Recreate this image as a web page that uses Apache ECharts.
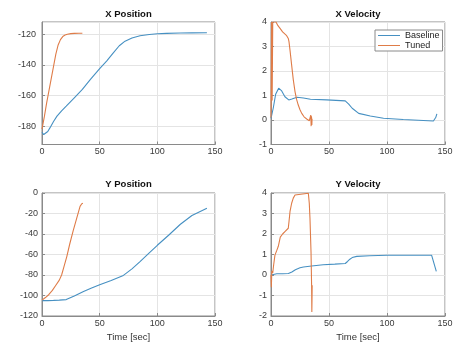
<!DOCTYPE html>
<html lang="en">
<head>
    <meta charset="UTF-8">
    <title>Position / Velocity</title>
    <script src="https://cdn.jsdelivr.net/npm/echarts@6/dist/echarts.min.js"></script>
    <style>
        body { margin: 0; background: #fff; }
    </style>
</head>
<body>
    <div id="main" style="width:474px;height:353px;"></div>

    <script>
        // [time, value] pairs
        const xPosBaseline = [
            [0, -184], [1.5, -185.5], [3, -185.5], [5, -183.5], [7, -181], [10, -177], [13, -173.5],
            [17, -170], [21, -167], [28, -161.5], [35, -156], [42, -149.5], [50, -142.5], [56, -137.5],
            [62, -132], [67, -127.5], [72, -124.5], [78, -122.5], [85, -121], [93, -120.2], [100, -119.7],
            [108, -119.4], [120, -119.2], [130, -119.1], [143, -119]
        ];
        const xPosTuned = [
            [0, -182], [2, -174], [4, -165], [6, -157], [8, -149], [10, -141], [12, -133], [14, -127],
            [16, -123.5], [18, -121.5], [20, -120.5], [22, -120], [25, -119.6], [28, -119.4], [32, -119.3], [35, -119.3]
        ];
        const xVelBaseline = [
            [0, 0.07], [2, 0.5], [4, 1.05], [6.6, 1.3], [9, 1.2], [12, 0.95], [15.3, 0.82], [18, 0.86],
            [22.4, 0.93], [28, 0.9], [34, 0.85], [48, 0.82], [64, 0.78], [67, 0.65], [70, 0.48], [75.6, 0.27],
            [85.6, 0.16], [97, 0.07], [114, 0.02], [140, -0.04], [141, -0.05], [142, 0.1], [143, 0.25]
        ];
        const xVelTuned = [
            [0, 0.1], [0.5, 4], [1, 0.8], [1.5, 4], [4.3, 4], [6, 3.85], [7.8, 3.74], [10, 3.6], [13.5, 3.44],
            [14.9, 3.33], [15.5, 3.2], [16.5, 2.8], [17.8, 2.24], [19.2, 1.65], [20.7, 1.16], [22, 0.85],
            [23.5, 0.61], [25, 0.42], [26.5, 0.27], [28.5, 0.13], [30.8, 0.04], [33, -0.03], [34, -0.05],
            [34.3, 0.2], [34.6, -0.25], [34.9, 0.15], [35.2, -0.2], [35.4, 0.05]
        ];
        const yPosBaseline = [
            [0, -105], [5, -105], [10, -104.8], [15, -104.5], [21, -104], [28, -100.5], [36, -96],
            [43, -92.7], [50, -89.5], [60, -85.3], [70, -80.8], [78, -74], [85, -67], [93, -58.5],
            [100, -51], [110, -41], [120, -30.5], [130, -22], [143, -14.8]
        ];
        const yPosTuned = [
            [0, -104.5], [3, -102], [6, -99], [9, -95], [12, -90], [15, -85], [17, -80], [19, -72],
            [21.5, -62], [24, -50], [27, -37], [30, -25], [33, -13], [34.5, -10.5], [35.5, -10]
        ];
        const yVelBaseline = [
            [0, 0], [1, 0.05], [5, 0.06], [10, 0.06], [15, 0.07], [18, 0.15], [21, 0.26], [25, 0.35],
            [28, 0.39], [35, 0.44], [45, 0.5], [55, 0.53], [64, 0.56], [66, 0.66], [68, 0.77], [70, 0.85],
            [74, 0.91], [85, 0.94], [100, 0.96], [120, 0.96], [138.5, 0.96], [142.5, 0.18]
        ];
        const yVelTuned = [
            [0, 0], [0.3, -0.6], [0.7, 0.2], [1.5, 0.1], [2.3, 0.5], [3.4, 0.97], [5, 1.2], [6.3, 1.4],
            [8, 1.85], [10, 2.0], [12, 2.12], [13.5, 2.2], [14.9, 2.28], [15.5, 2.6], [16.4, 3.1],
            [17.8, 3.5], [19.2, 3.75], [20.7, 3.9], [22.2, 3.99], [32.2, 3.99], [33, 3.5], [33.6, 2.77],
            [34.5, 1.13], [35, -0.5], [35.2, -1.8], [35.4, -1.0], [35.5, -0.5]
        ];

        const titles = ['X Position', 'X Velocity', 'Y Position', 'Y Velocity'];
        const seriesNames = ['Baseline', 'Tuned'];
        const timeTicks = { min: 0, max: 150, interval: 50 };
        const xLabel = 'Time [sec]';

        const font = 'Liberation Sans, Arial, Helvetica, sans-serif';
        const axisColor = '#8a8a8a';
        const blue = '#4690c2';
        const orange = '#df7c48';

        const grids = [
            { left: 42, top: 22, width: 173, height: 122.5 },
            { left: 271, top: 22, width: 174, height: 122.5 },
            { left: 42, top: 193, width: 173, height: 123 },
            { left: 271, top: 193, width: 174, height: 123 }
        ];

        function makeX(i) {
            const bottomRow = i >= 2;
            return {
                type: 'value',
                gridIndex: i,
                min: timeTicks.min,
                max: timeTicks.max,
                interval: timeTicks.interval,
                name: bottomRow ? xLabel : '',
                nameLocation: 'middle',
                nameGap: 16,
                nameTextStyle: { color: '#333', fontSize: 9.5, fontFamily: font },
                axisLine: { onZero: false, lineStyle: { color: axisColor } },
                axisTick: { inside: true, length: 3, lineStyle: { color: axisColor } },
                axisLabel: { color: '#3a3a3a', fontSize: 9, fontFamily: font, margin: 3 },
                splitLine: { show: true, lineStyle: { color: '#e4e4e4' } }
            };
        }

        function makeY(i, extra) {
            return Object.assign({
                type: 'value',
                gridIndex: i,
                axisLine: { show: true, onZero: false, lineStyle: { color: axisColor } },
                axisTick: { show: true, inside: true, length: 3, lineStyle: { color: axisColor } },
                axisLabel: { color: '#3a3a3a', fontSize: 9, fontFamily: font, margin: 4 },
                splitLine: { show: true, lineStyle: { color: '#e4e4e4' } }
            }, extra);
        }

        function makeLine(name, data, idx, color) {
            return {
                name: name,
                type: 'line',
                xAxisIndex: idx,
                yAxisIndex: idx,
                data: data,
                symbol: 'none',
                clip: true,
                lineStyle: { color: color, width: 1.1 },
                itemStyle: { color: color }
            };
        }

        const option = {
            backgroundColor: '#fff',
            animation: false,
            title: titles.map(function (t, i) {
                return {
                    text: t,
                    left: grids[i].left + grids[i].width / 2,
                    top: i < 2 ? 9 : 179,
                    textAlign: 'center',
                    padding: 0,
                    textStyle: { fontSize: 9.5, fontWeight: 'bold', color: '#111', fontFamily: font }
                };
            }),
            legend: {
                data: seriesNames,
                orient: 'vertical',
                left: 375,
                top: 30,
                icon: 'path://M0,0H22V1H0Z',
                itemWidth: 22,
                itemHeight: 11,
                itemGap: 1,
                padding: [1, 3, 1, 3],
                backgroundColor: '#fff',
                borderColor: axisColor,
                borderWidth: 1,
                borderRadius: 0,
                textStyle: { fontSize: 9, color: '#222', fontFamily: font }
            },
            grid: grids.map(function (g) {
                return Object.assign({ show: true, borderColor: axisColor, borderWidth: 1, backgroundColor: '#fff' }, g);
            }),
            xAxis: [0, 1, 2, 3].map(makeX),
            yAxis: [
                makeY(0, { min: -192, max: -112, splitNumber: 4, axisLabel: { color: '#3a3a3a', fontSize: 9, fontFamily: font, margin: 6, showMinLabel: false, showMaxLabel: false } }),
                makeY(1, { min: -1, max: 4, interval: 1 }),
                makeY(2, { min: -120, max: 0, interval: 20 }),
                makeY(3, { min: -2, max: 4, interval: 1 })
            ],
            series: [
                makeLine(seriesNames[0], xPosBaseline, 0, blue),
                makeLine(seriesNames[1], xPosTuned, 0, orange),
                makeLine(seriesNames[0], xVelBaseline, 1, blue),
                makeLine(seriesNames[1], xVelTuned, 1, orange),
                makeLine(seriesNames[0], yPosBaseline, 2, blue),
                makeLine(seriesNames[1], yPosTuned, 2, orange),
                makeLine(seriesNames[0], yVelBaseline, 3, blue),
                makeLine(seriesNames[1], yVelTuned, 3, orange)
            ]
        };

        var myChart = echarts.init(document.getElementById('main'));
        myChart.setOption(option);
    </script>
</body>
</html>
